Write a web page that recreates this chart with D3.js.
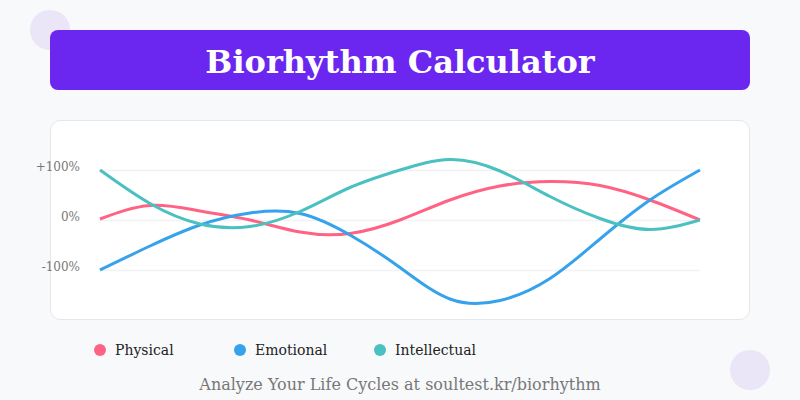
<!DOCTYPE html>
<html>
<head>
<meta charset="utf-8">
<script src="https://cdn.jsdelivr.net/npm/d3@7"></script>
<style>
  html, body { margin: 0; padding: 0; background: #f8f9fb; }
  svg { display: block; font-family: "DejaVu Serif", serif; }
</style>
</head>
<body>
<svg id="chart" width="800" height="400"></svg>
<script>
// sample positions and series values, 1 = +100%
var days = d3.range(0, 13);
var physical = [0.02, 0.29, 0.18, 0.0, -0.24, -0.27, 0.0, 0.4, 0.68, 0.77, 0.69, 0.4, 0.0];
var emotional = [-1.0, -0.52, -0.1, 0.14, 0.13, -0.3, -0.95, -1.58, -1.61, -1.17, -0.38, 0.4, 1.0];
var intellectual = [1.0, 0.33, -0.08, -0.13, 0.17, 0.65, 1.0, 1.21, 0.98, 0.47, 0.03, -0.19, 0.0];
var seriesNames = ["Physical", "Emotional", "Intellectual"];
var seriesColors = ["#ff6384", "#36a2eb", "#4bc0c0"];
var tickValues = [1, 0, -1];
var tickLabels = ["+100%", "0%", "-100%"];

var svg = d3.select("#chart");

// decorative blobs
svg.append("circle").attr("cx", 50).attr("cy", 30).attr("r", 20).attr("fill", "#ebe5f8");
svg.append("circle").attr("cx", 750).attr("cy", 370).attr("r", 20).attr("fill", "#ebe5f8");

// title banner
svg.append("rect")
  .attr("x", 50).attr("y", 30).attr("width", 700).attr("height", 60).attr("rx", 8)
  .attr("fill", "#6b27ef");
svg.append("text")
  .attr("x", 400).attr("y", 72.5)
  .attr("text-anchor", "middle")
  .attr("fill", "#fff")
  .style("font-size", "32px")
  .style("font-weight", "bold")
  .text("Biorhythm Calculator");

// chart panel
svg.append("rect")
  .attr("x", 50.5).attr("y", 120.5).attr("width", 699).attr("height", 199).attr("rx", 10)
  .attr("fill", "#fff").attr("stroke", "#e4e6ea");

var x = d3.scaleLinear().domain([0, 12]).range([100, 700]);
var y = d3.scaleLinear().domain([-1, 1]).range([270, 170]);

// grid + labels
var yAxis = d3.axisLeft(y)
  .tickValues(tickValues)
  .tickSize(-600)
  .tickPadding(20)
  .tickFormat(function(d, i) { return tickLabels[i]; });

var g = svg.append("g").attr("transform", "translate(100,0)").call(yAxis);
g.select(".domain").remove();
g.selectAll(".tick line").attr("stroke", "#f1f2f4").attr("stroke-width", 1.5);
g.selectAll(".tick text")
  .attr("fill", "#777")
  .attr("dy", "0")
  .style("font-family", "DejaVu Serif, serif")
  .style("font-size", "12px");

var line = d3.line()
  .x(function(d, i) { return x(days[i]); })
  .y(function(d) { return y(d); })
  .curve(d3.curveNatural);

[physical, emotional, intellectual].forEach(function(s, k) {
  svg.append("path")
    .datum(s)
    .attr("d", line)
    .attr("fill", "none")
    .attr("stroke", seriesColors[k])
    .attr("stroke-width", 3);
});

// legend
seriesNames.forEach(function(name, k) {
  var lx = 100 + k * 140;
  svg.append("circle").attr("cx", lx).attr("cy", 350).attr("r", 6).attr("fill", seriesColors[k]);
  svg.append("text")
    .attr("x", lx + 15).attr("y", 355)
    .attr("fill", "#222")
    .style("font-size", "14px")
    .text(name);
});

svg.append("text")
  .attr("x", 400).attr("y", 389.5)
  .attr("text-anchor", "middle")
  .attr("fill", "#777")
  .style("font-size", "16px")
  .text("Analyze Your Life Cycles at soultest.kr/biorhythm");
</script>
</body>
</html>
